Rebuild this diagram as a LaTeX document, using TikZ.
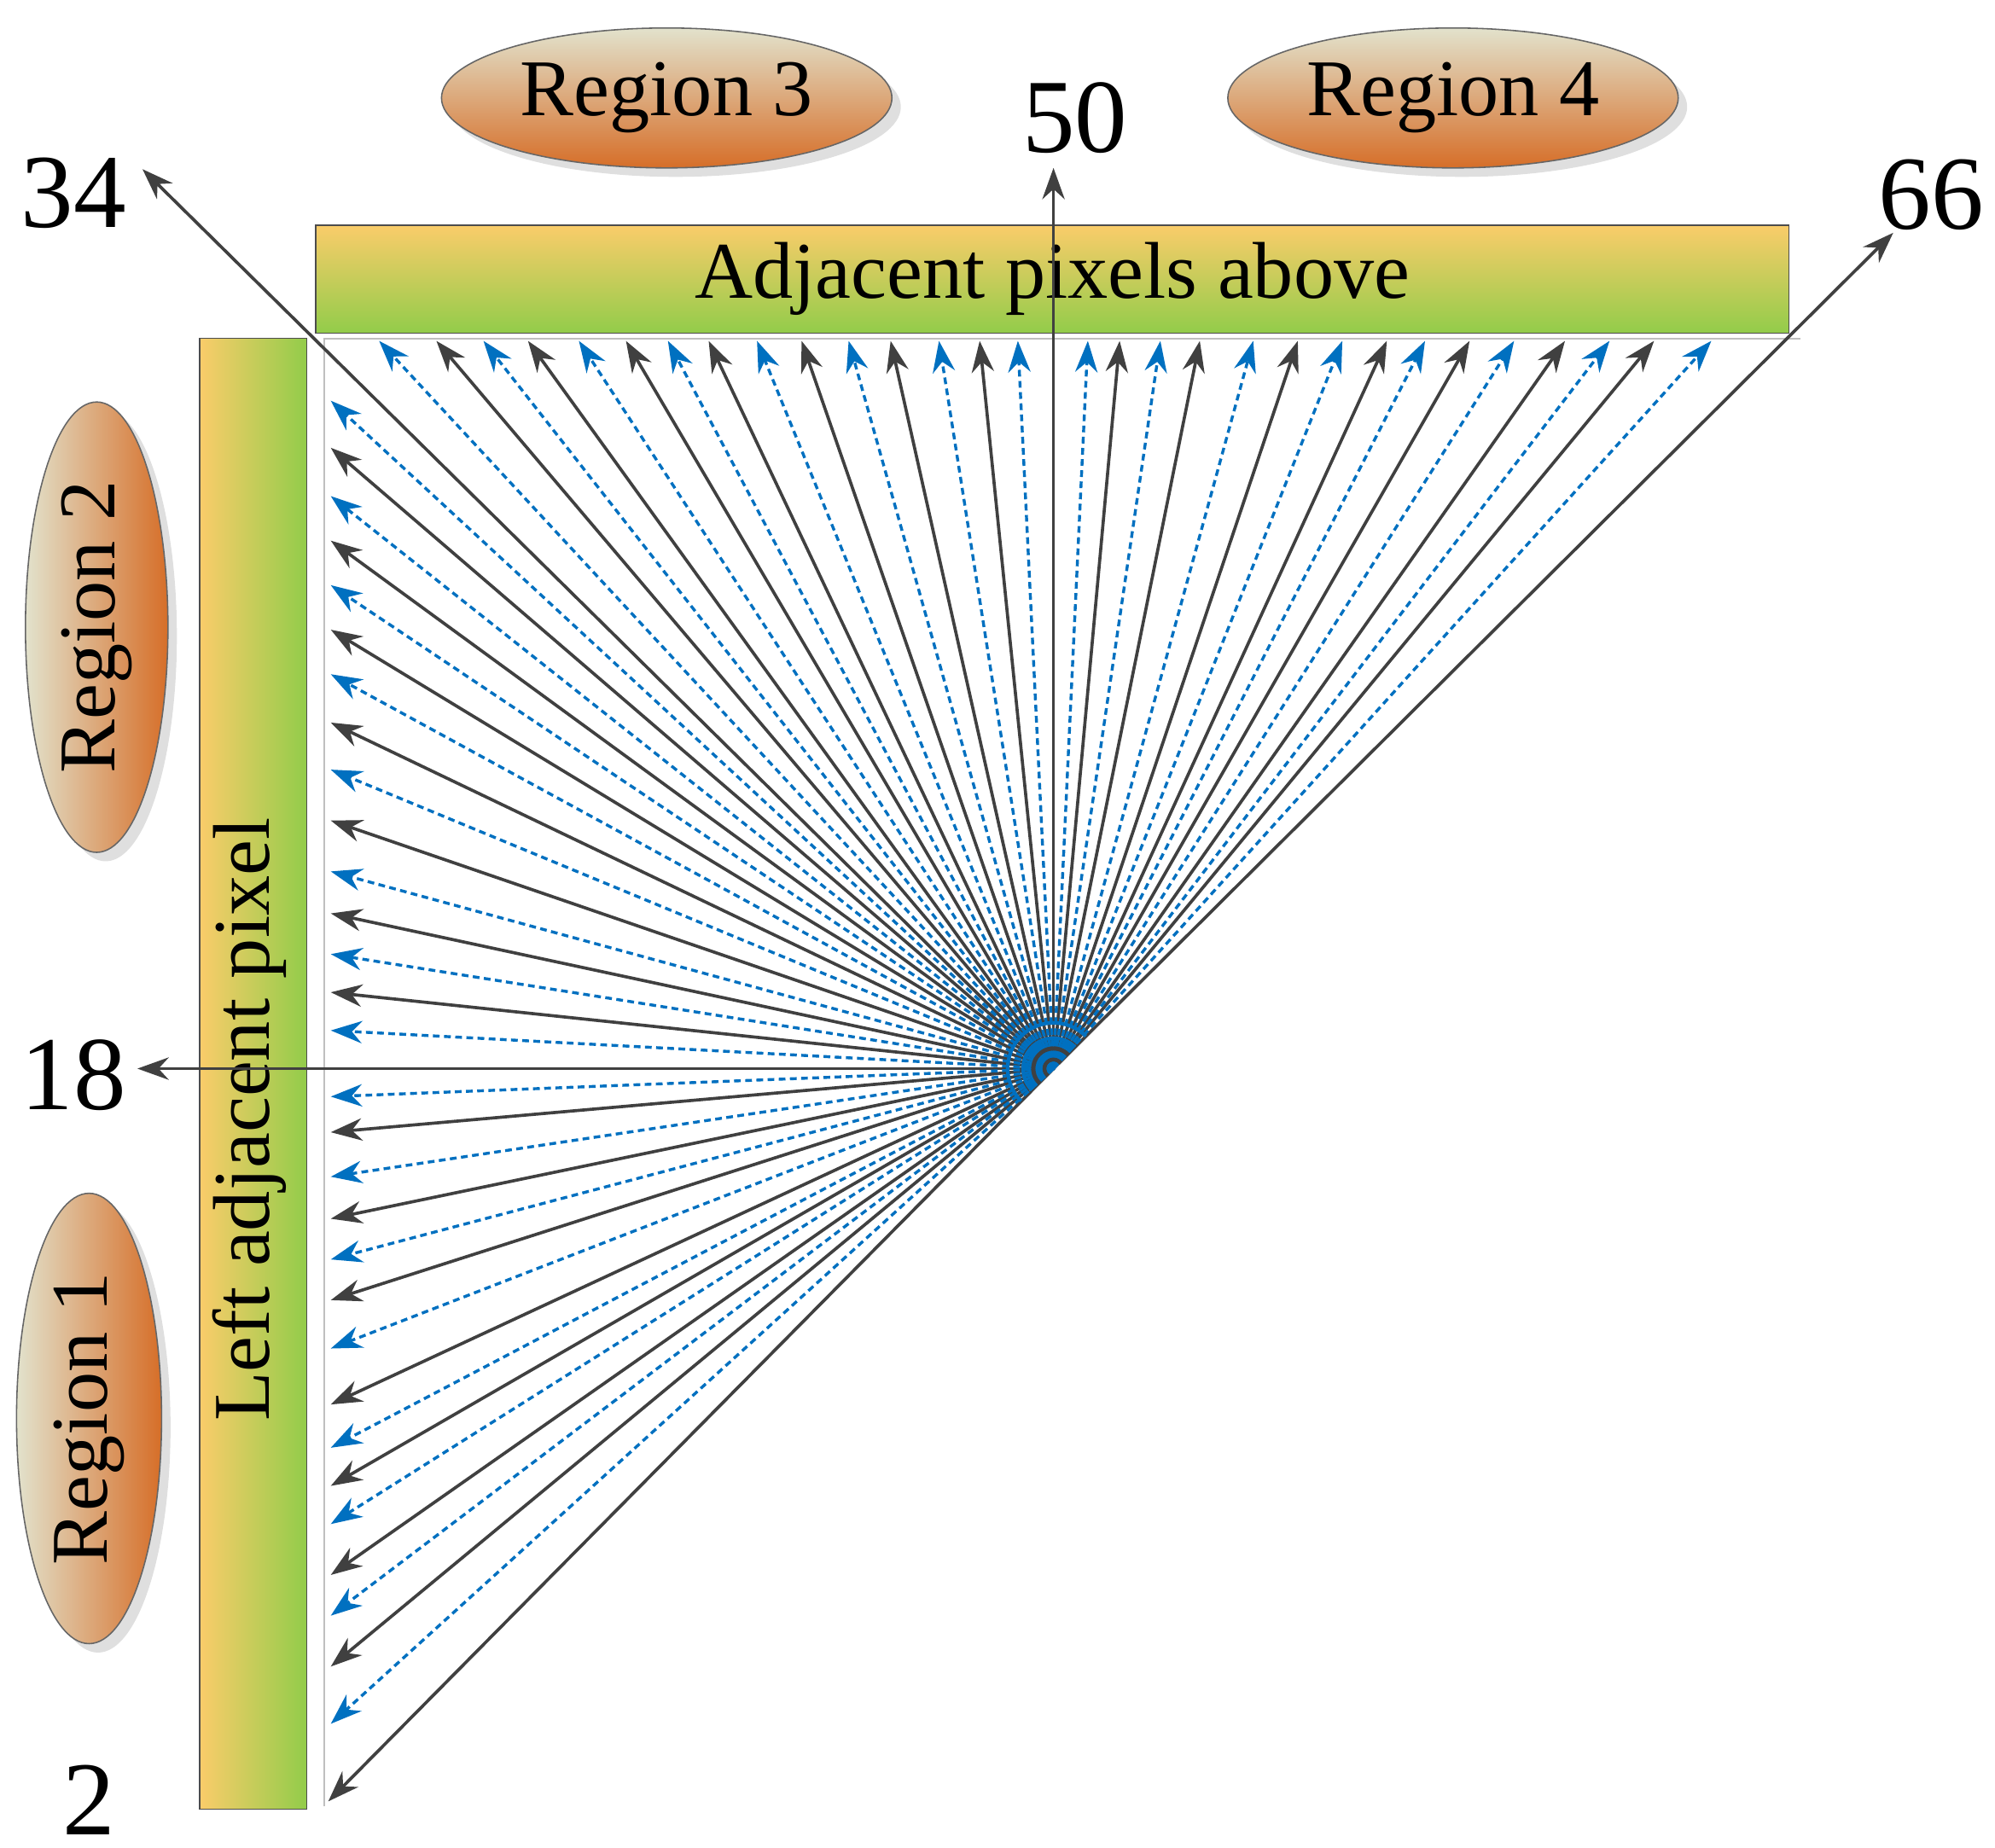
\documentclass[tikz,border=0pt]{standalone}
\usepackage{fontspec}
\setmainfont{Liberation Serif}
\usetikzlibrary{arrows.meta,shadows,shapes.geometric}
\definecolor{yel}{RGB}{250,204,106}
\definecolor{grn}{RGB}{146,204,74}
\definecolor{beige}{RGB}{226,226,204}
\definecolor{orng}{RGB}{214,110,40}
\definecolor{blu}{RGB}{0,112,192}
\begin{document}
\begin{tikzpicture}[x=0.02cm,y=-0.02cm,
 sol/.style={draw=black!75,line width=1.4pt,-{Stealth[length=14pt,width=10pt]}},
 dsh/.style={draw=blu,line width=1.3pt,dash pattern=on 3pt off 2pt,-{Stealth[length=14pt,width=10pt,fill=blu]}},
 reg/.style={ellipse,draw=black!60,line width=0.6pt,drop shadow={opacity=0.25,shadow xshift=4pt,shadow yshift=-4pt},font=\fontsize{36}{40}\selectfont},
 lab/.style={font=\fontsize{47}{50}\selectfont}]
\useasboundingbox (0,0) rectangle (1568,1452.6);
% bars
\node[draw=black!70,line width=0.6pt,top color=yel,bottom color=grn,minimum width=1158*0.02cm,minimum height=85*0.02cm,inner sep=0,font=\fontsize{36}{40}\selectfont] (above) at (827,219.5) {Adjacent pixels above};
\node[draw=black!70,line width=0.6pt,left color=yel,right color=grn,minimum width=84*0.02cm,minimum height=1156*0.02cm,inner sep=0] (left) at (199,844) {};
\node[rotate=90,font=\fontsize{36}{40}\selectfont] (lefttext) at (196,880) {Left adjacent pixel};
\draw[black!25,line width=0.8pt] (255,1420) -- (255,266) -- (1415,266);
% regions
\node[reg,top color=beige,bottom color=orng,minimum width=354*0.02cm,minimum height=110*0.02cm] (r3) at (524,77) {Region 3};
\node[reg,top color=beige,bottom color=orng,minimum width=354*0.02cm,minimum height=110*0.02cm] (r4) at (1142,77) {Region 4};
\node[reg,left color=beige,right color=orng,minimum width=112*0.02cm,minimum height=354*0.02cm] (r2) at (76,493) {};
\node[rotate=90,font=\fontsize{36}{40}\selectfont] at (r2) {Region 2};
\node[reg,left color=beige,right color=orng,minimum width=114*0.02cm,minimum height=354*0.02cm] (r1) at (70,1115) {};
\node[rotate=90,font=\fontsize{36}{40}\selectfont] at (r1) {Region 1};
% center
\coordinate (C) at (828,840);
\coordinate (t2) at (258,1416);
\coordinate (t18) at (108,840);
\coordinate (t34) at (112,133);
\coordinate (t50) at (828,132);
\coordinate (t66) at (1488,183);
\foreach \m/\y in {3/1355,4/1310,5/1270,6/1238,7/1198,8/1168,9/1138,10/1104,11/1060,12/1022,13/990,14/958,15/925,16/890,17/862,19/810,20/780,21/750,22/718,23/685,24/645,25/605,26/568,27/530,28/495,29/460,30/425,31/390,32/352,33/315}
  {\coordinate (t\m) at (260,\y);}
\foreach \m/\x in {35/298,36/343,37/380,38/415,39/455,40/492,41/525,42/557,43/595,44/630,45/667,46/700,47/738,48/770,49/800,51/855,52/880,53/912,54/943,55/985,56/1020,57/1055,58/1090,59/1120,60/1155,61/1190,62/1230,63/1265,64/1300,65/1345}
  {\coordinate (t\m) at (\x,268);}
\foreach \m in {2,4,...,66} {\draw[sol] (C) -- (t\m);}
\foreach \m in {3,5,...,65} {\draw[dsh] (C) -- (t\m);}
\foreach \r in {12,24,36} {\draw[blu,line width=1.6pt] (C) ++(45:\r*0.02cm) arc[start angle=45,end angle=225,radius=\r*0.02cm];}
% labels
\node[lab] (l34) at (58,152) {34};
\node[lab] (l50) at (845,93) {50};
\node[lab] (l66) at (1518,153) {66};
\node[lab] (l18) at (58,845) {18};
\node[lab] (l2) at (70,1415) {2};
\end{tikzpicture}
\end{document}
